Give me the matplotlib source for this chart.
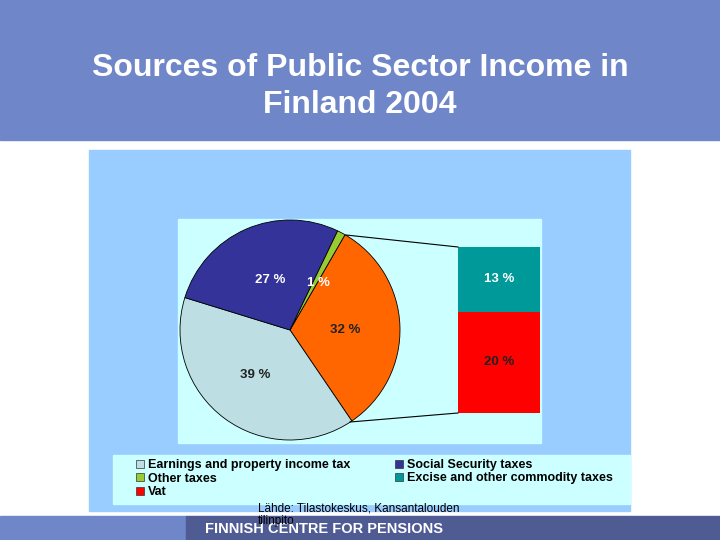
import matplotlib.pyplot as plt
from matplotlib.patches import Rectangle, Patch

plt.rcParams['font.family'] = ['Liberation Sans', 'DejaVu Sans']

# data (% of public sector income, Finland 2004)
main_labels = ['Earnings and property income tax', 'Social Security taxes', 'Other taxes']
main_values = [39.3, 27.4, 1.2]
main_colors = ['#BDDFE3', '#333399', '#99CC33']
split_labels = ['Excise and other commodity taxes', 'Vat']
split_values = [12.6, 19.6]
split_colors = ['#009999', '#FF0000']
combined_color = '#FF6600'

fig = plt.figure(figsize=(7.2, 5.4), dpi=100)
ax = fig.add_axes([0, 0, 1, 1])

H = 540
def Y(y):
    return H - y

# background blocks
ax.add_patch(Rectangle((0, Y(140)), 720, 140, color='#6F86C9', zorder=0))
ax.add_patch(Rectangle((0, 0), 186, 24, color='#6F86C9', zorder=0))
ax.add_patch(Rectangle((186, 0), 534, 24, color='#4F5B93', zorder=0))
ax.add_patch(Rectangle((89, Y(511)), 541, 361, color='#99CCFF', zorder=0))
ax.add_patch(Rectangle((178, Y(443)), 363, 224, color='#CCFFFF', zorder=0))
ax.add_patch(Rectangle((113, Y(504)), 517, 49, color='#CCFFFF', zorder=0))

ax.text(360, Y(68), 'Sources of Public Sector Income in', color='white',
        fontsize=23, fontweight='bold', ha='center', va='center')
ax.text(360, Y(105), 'Finland 2004', color='white', fontsize=23,
        fontweight='bold', ha='center', va='center')

# pie: combined slice first, clockwise from the top right
combined = sum(split_values)
pie_vals = [combined, main_values[0], main_values[1], main_values[2]]
pie_cols = [combined_color, main_colors[0], main_colors[1], main_colors[2]]
cx, cy, r = 290, Y(330), 110
ax.pie(pie_vals, colors=pie_cols, startangle=60, counterclock=False,
       center=(cx, cy), radius=r, frame=True,
       wedgeprops=dict(edgecolor='black', linewidth=0.6))

lbl = dict(fontsize=9.5, fontweight='bold', ha='center', va='center')
ax.text(270, Y(280), '%.0f %%' % main_values[1], color='white', **lbl)
ax.text(318, Y(283), '%.0f %%' % main_values[2], color='white', **lbl)
ax.text(345, Y(330), '%.0f %%' % combined, color='#222222', **lbl)
ax.text(255, Y(375), '%.0f %%' % main_values[0], color='#222222', **lbl)

# stacked bar for the split slice
scale = 166 / combined
bx, bw = 499, 82
bottom = Y(413)
h_vat = split_values[1] * scale
h_exc = split_values[0] * scale
ax.bar(bx, h_vat, width=bw, bottom=bottom, color=split_colors[1])
ax.bar(bx, h_exc, width=bw, bottom=bottom + h_vat, color=split_colors[0])
ax.text(bx, bottom + h_vat / 2, '%.0f %%' % split_values[1], color='#222222', **lbl)
ax.text(bx, bottom + h_vat + h_exc / 2, '%.0f %%' % split_values[0], color='white', **lbl)

# connector lines
ax.plot([346, bx - bw / 2], [Y(235), bottom + h_vat + h_exc], color='black', lw=0.8)
ax.plot([350, bx - bw / 2], [Y(422), bottom], color='black', lw=0.8)

# legend
order = [0, 2, 4, 1, 3]
all_labels = main_labels + split_labels
all_colors = main_colors + split_colors
handles = [Patch(facecolor=all_colors[i], edgecolor='#333333', linewidth=0.5,
                 label=all_labels[i]) for i in order]
ax.legend(handles=handles, loc='upper left', bbox_to_anchor=(136 / 720, Y(459) / H),
          ncol=2, frameon=False, handlelength=0.6, handleheight=0.6,
          handletextpad=0.35, labelspacing=0.12, columnspacing=3.6,
          borderpad=0, borderaxespad=0, prop=dict(weight='bold', size=9))

ax.text(258, Y(515), 'Lähde: Tilastokeskus, Kansantalouden\ntilinpito', fontsize=8.5,
        ha='left', va='center', color='black', linespacing=1.1)
ax.text(205, Y(529), 'FINNISH CENTRE FOR PENSIONS', color='white', fontsize=10.5,
        fontweight='bold', ha='left', va='center', zorder=1)

ax.set_xlim(0, 720)
ax.set_ylim(0, 540)
ax.set_aspect('auto')
ax.axis('off')

fig.savefig('out.png', dpi=100)
